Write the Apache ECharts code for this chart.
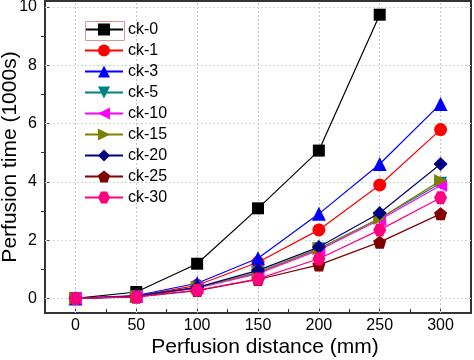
<!DOCTYPE html>
<html>
<head>
<meta charset="utf-8">
<script src="https://cdn.jsdelivr.net/npm/echarts@6/dist/echarts.min.js"></script>
<style>html,body{margin:0;padding:0;background:#fff}#c{width:474px;height:360px}</style>
</head>
<body>
<div id="c"></div>
<script>
const distance = [0, 50, 100, 150, 200, 250, 300];
const names = ['ck-0','ck-1','ck-3','ck-5','ck-10','ck-15','ck-20','ck-25','ck-30'];
const ck0  = [0, 0.22, 1.19, 3.09, 5.07, 9.73, null];
const ck1  = [0, 0.08, 0.45, 1.24, 2.35, 3.89, 5.79];
const ck3  = [0, 0.10, 0.52, 1.38, 2.90, 4.61, 6.67];
const ck5  = [0, 0.07, 0.37, 0.88, 1.70, 2.75, 3.95];
const ck10 = [0, 0.06, 0.35, 0.85, 1.65, 2.70, 3.87];
const ck15 = [0, 0.07, 0.37, 0.90, 1.70, 2.74, 4.04];
const ck20 = [0, 0.08, 0.38, 0.96, 1.76, 2.93, 4.61];
const ck25 = [0, 0.05, 0.27, 0.65, 1.15, 1.93, 2.90];
const ck30 = [0, 0.05, 0.28, 0.67, 1.36, 2.35, 3.45];
const xTicks = [0, 50, 100, 150, 200, 250, 300];
const xMinor = [25, 75, 125, 175, 225, 275];
const yTicks = [0, 2, 4, 6, 8, 10];
const yMinor = [1, 3, 5, 7, 9];

const values = [ck0, ck1, ck3, ck5, ck10, ck15, ck20, ck25, ck30];
const colors = ['#000000','#ff0000','#0000ff','#008080','#ff00ff','#808000','#000080','#800000','#ff0080'];
const symbols = [
  'rect', 'circle', 'triangle',
  'path://M0,0L10,0L5,9Z',
  'path://M0,5L9,0L9,10Z',
  'path://M0,0L9,5L0,10Z',
  'diamond',
  'path://M5,0L10,3.8L8.1,9.5L1.9,9.5L0,3.8Z',
  'path://M2.5,0L7.5,0L10,4.33L7.5,8.66L2.5,8.66L0,4.33Z'
];
const sizes = [12, 13, 14, 13, 13, 13, 14, 13, 13];

const series = names.map((n, k) => ({
  name: n, type: 'line',
  data: distance.map((d, i) => [d, values[k][i]]),
  symbol: symbols[k], symbolSize: sizes[k],
  showAllSymbol: true,
  color: colors[k],
  lineStyle: {width: 1.2, color: colors[k]},
  itemStyle: {color: colors[k]},
  z: 3 + k
}));

series.unshift({
  name: 'grid', type: 'line', data: [], silent: true, z: 1,
  markLine: {
    silent: true, symbol: 'none', animation: false, z: 1,
    label: {show: false},
    data: xTicks.map(v => ({xAxis: v, lineStyle: {color: '#c0c0dc', type: [2, 2], width: 1}}))
      .concat(yTicks.map(v => ({yAxis: v, lineStyle: {color: '#c4e4c4', type: [2, 2], width: 1}})))
  }
});

const chart = echarts.init(document.getElementById('c'), null, {renderer: 'canvas'});
const fontFam = 'Arial, "Liberation Sans", sans-serif';
chart.setOption({
  animation: false,
  grid: {left: 45, right: 3, top: 1, bottom: 47, show: true, borderColor: '#333', borderWidth: 2,
         backgroundColor: 'transparent', containLabel: false, outerBoundsMode: 'none'},
  legend: {
    data: names, orient: 'vertical', left: 84, top: 19, padding: 0,
    itemWidth: 38, itemHeight: 15, itemGap: 0,
    textStyle: {fontSize: 16, lineHeight: 21, color: '#000', fontFamily: fontFam}
  },
  xAxis: [{
    type: 'value', min: -25, max: 325, position: 'bottom',
    name: 'Perfusion distance (mm)', nameLocation: 'middle', nameGap: 24, nameMoveOverlap: false,
    nameTextStyle: {fontSize: 21, color: '#000', fontFamily: fontFam, padding: [0, 0, 0, 14]},
    axisLine: {show: true, onZero: false, lineStyle: {color: '#333', width: 2}},
    axisTick: {show: true, inside: true, length: 6, customValues: xTicks, lineStyle: {color: '#333', width: 1}},
    axisLabel: {customValues: xTicks, fontSize: 16, color: '#000', margin: 5, fontFamily: fontFam},
    splitLine: {show: false}
  }, {
    type: 'value', min: -25, max: 325, position: 'top', offset: -312,
    axisLine: {show: false, onZero: false},
    axisTick: {show: true, inside: false, length: 4, customValues: xMinor, lineStyle: {color: '#333', width: 1}},
    axisLabel: {show: false}, splitLine: {show: false}
  }],
  yAxis: [{
    type: 'value', min: -0.5, max: 10.2, position: 'left',
    name: 'Perfusion time (1000s)', nameLocation: 'middle', nameGap: 24, nameMoveOverlap: false,
    nameTextStyle: {fontSize: 21, color: '#000', fontFamily: fontFam},
    axisLine: {show: true, onZero: false, lineStyle: {color: '#333', width: 2}},
    axisTick: {show: true, inside: true, length: 6, customValues: yTicks, lineStyle: {color: '#333', width: 1}},
    axisLabel: {customValues: yTicks, fontSize: 16, color: '#000', margin: 8, fontFamily: fontFam},
    splitLine: {show: false}
  }, {
    type: 'value', min: -0.5, max: 10.2, position: 'right', offset: -426,
    axisLine: {show: false, onZero: false},
    axisTick: {show: true, inside: true, length: 4, customValues: yMinor, lineStyle: {color: '#333', width: 1}},
    axisLabel: {show: false}, splitLine: {show: false}
  }],
  graphic: [{
    type: 'rect', left: 83, top: 19, z: 100, silent: true,
    shape: {width: 39, height: 19},
    style: {fill: 'none', stroke: '#e89090', lineWidth: 1}
  }],
  series: series
});
</script>
</body>
</html>
